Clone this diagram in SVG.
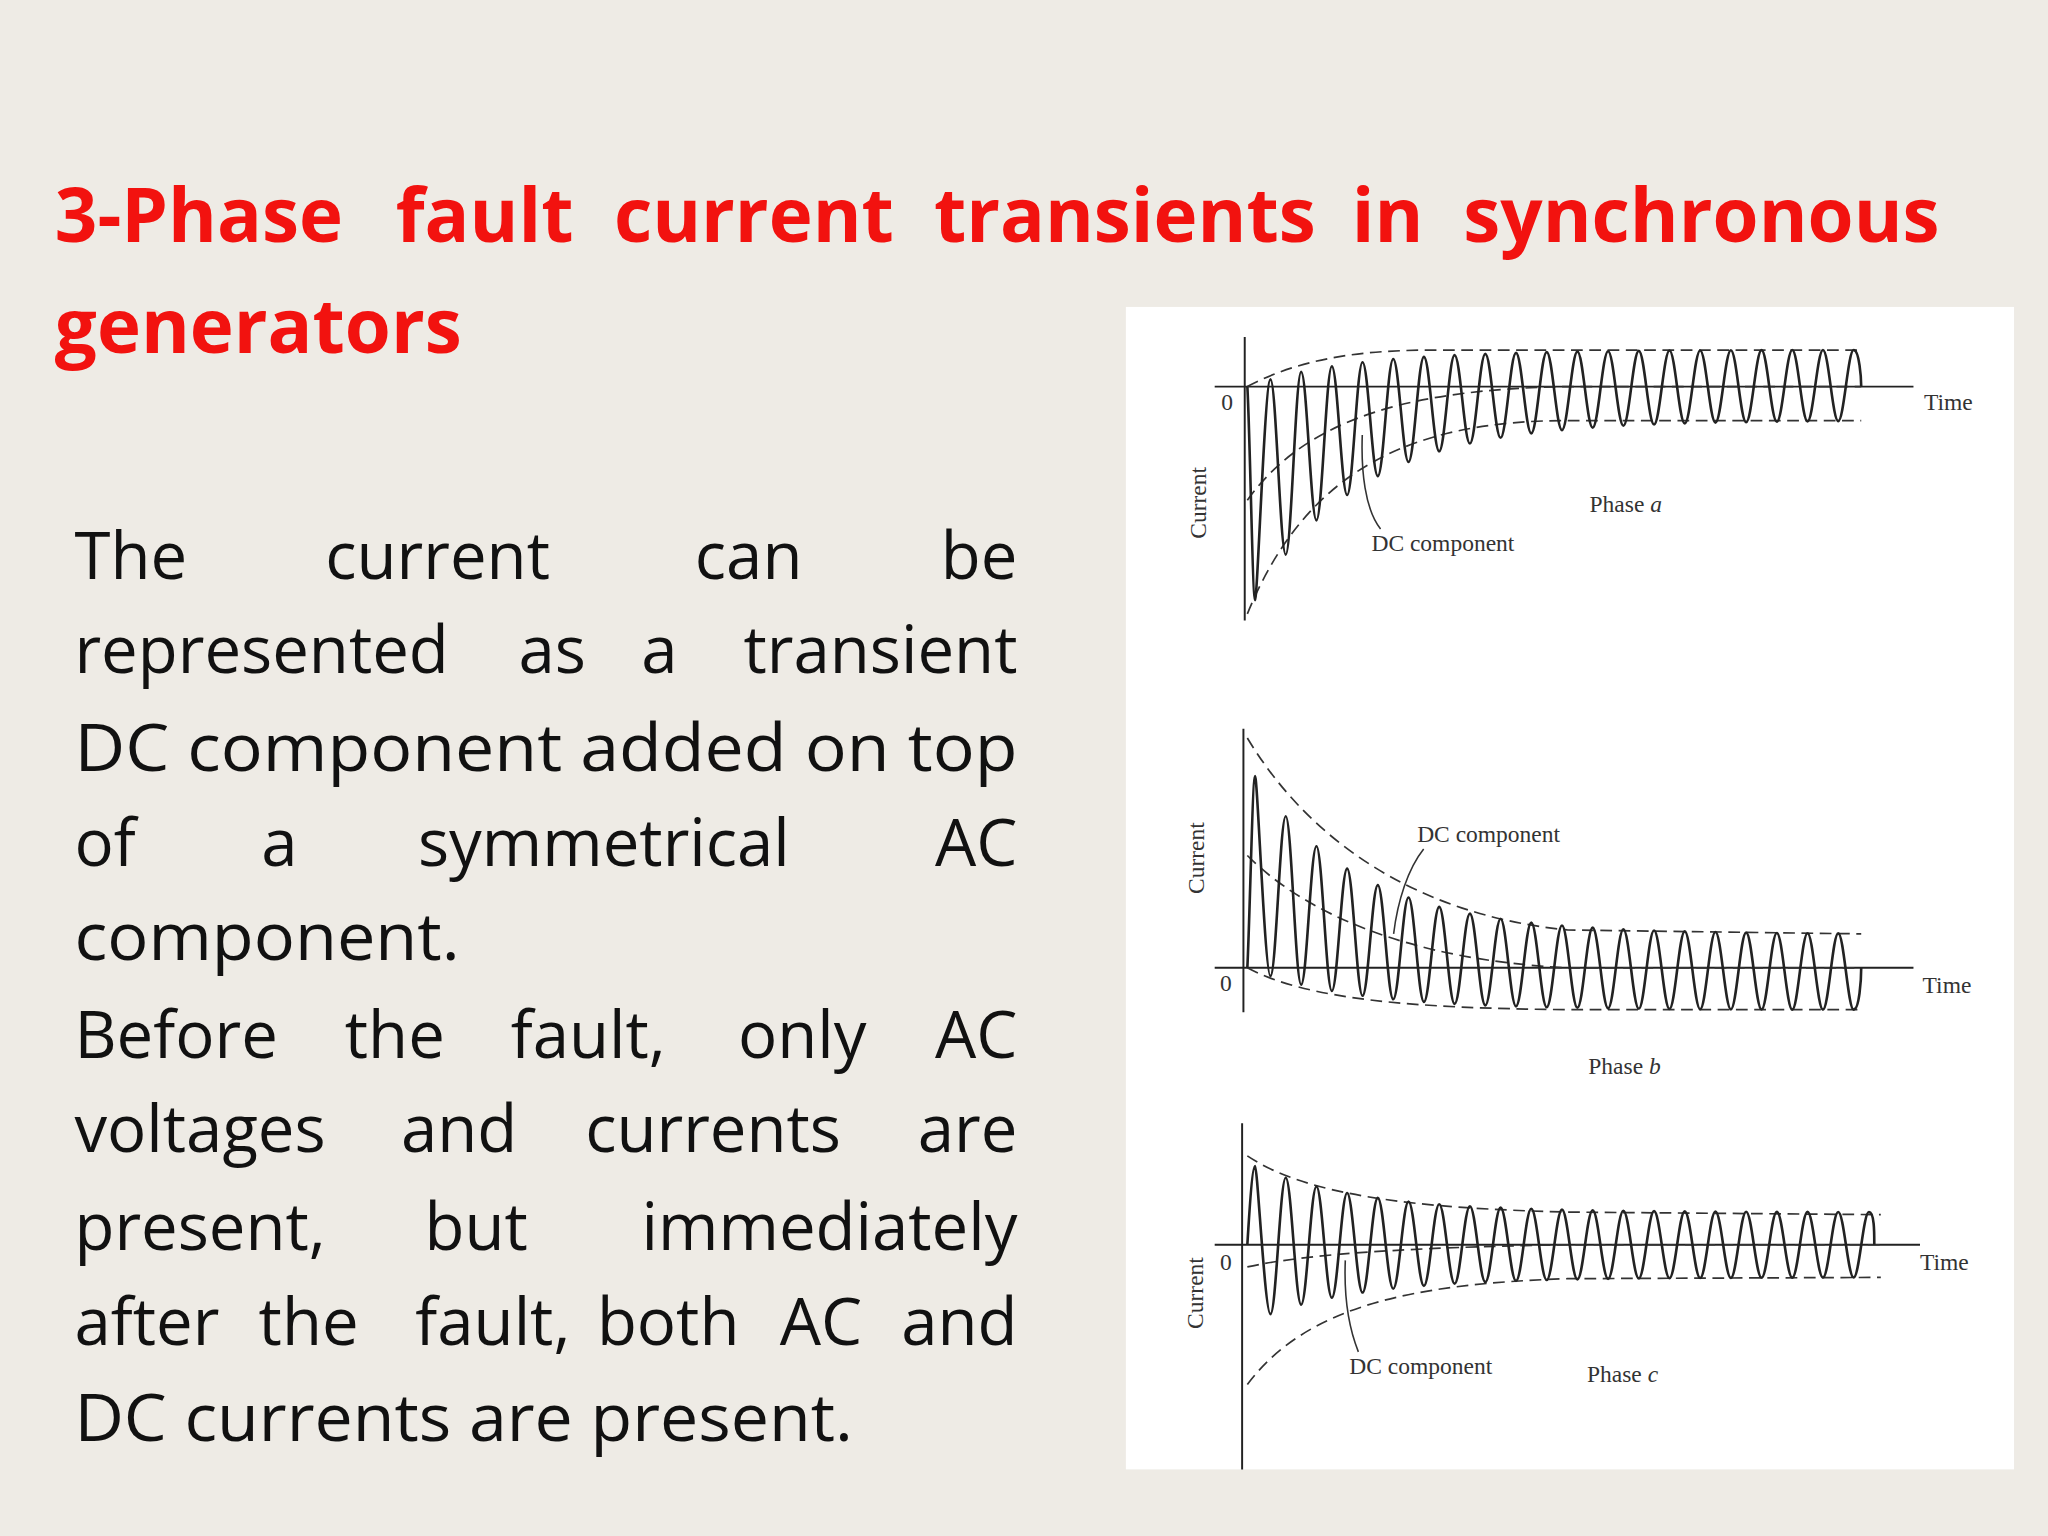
<svg xmlns="http://www.w3.org/2000/svg" width="2048" height="1536" viewBox="0 0 2048 1536">
<style>
.t{font-family:"Open Sans","Liberation Sans",sans-serif;font-weight:bold;font-size:57px;fill:#f2120f}
.b{font-family:"Open Sans","Liberation Sans",sans-serif;font-size:50px;fill:#111}
.e{text-anchor:end}
.p{font-family:"Liberation Serif",serif;font-size:18px;fill:#333}
.w{fill:none;stroke:#222;stroke-width:2}
.d{fill:none;stroke:#333;stroke-width:1.3;stroke-dasharray:9 5}
.ax{fill:none;stroke:#222;stroke-width:1.5}
.ld{fill:none;stroke:#333;stroke-width:1.2}
</style>
<rect width="2048" height="1536" fill="#eeebe5"/>
<g transform="scale(1.30612)">
<g id="title">
<text class="t" y="185"><tspan x="42">3-Phase</tspan><tspan x="303">fault</tspan><tspan x="470">current</tspan><tspan x="715">transients</tspan><tspan x="1035">in</tspan></text>
<text class="t e" x="1485" y="185">synchronous</text>
<text class="t" x="42" y="270">generators</text>
</g>
<g id="body">
<text class="b" y="443"><tspan x="57">The</tspan><tspan x="249">current</tspan><tspan x="532">can</tspan></text><text class="b e" x="779" y="443">be</text>
<text class="b" y="515"><tspan x="57">represented</tspan><tspan x="397">as</tspan><tspan x="491">a</tspan></text><text class="b e" x="779" y="515">transient</text>
<text class="b" x="57" y="590" textLength="722" lengthAdjust="spacingAndGlyphs">DC component added on top</text>
<text class="b" y="663"><tspan x="57">of</tspan><tspan x="200">a</tspan><tspan x="320">symmetrical</tspan></text><text class="b e" x="779" y="663">AC</text>
<text class="b" x="57" y="735" textLength="295" lengthAdjust="spacingAndGlyphs">component.</text>
<text class="b" y="810"><tspan x="57">Before</tspan><tspan x="264">the</tspan><tspan x="391">fault,</tspan><tspan x="565">only</tspan></text><text class="b e" x="779" y="810">AC</text>
<text class="b" y="882"><tspan x="57">voltages</tspan><tspan x="307">and</tspan><tspan x="448">currents</tspan></text><text class="b e" x="779" y="882">are</text>
<text class="b" y="957"><tspan x="57">present,</tspan><tspan x="325">but</tspan></text><text class="b e" x="779" y="957">immediately</text>
<text class="b" y="1030"><tspan x="57">after</tspan><tspan x="198">the</tspan><tspan x="318">fault,</tspan><tspan x="457">both</tspan><tspan x="597">AC</tspan></text><text class="b e" x="779" y="1030">and</text>
<text class="b" x="57" y="1103" textLength="596" lengthAdjust="spacingAndGlyphs">DC currents are present.</text>
</g>
<g id="panel">
<rect x="862" y="235" width="680" height="890" fill="#fff"/>
<g id="phase-a">
<path class="ax" d="M953,258 V475 M930,296 H1465"/>
<path class="d" d="M955,296 C1000,272 1050,268 1100,268 L1425,268"/>
<path class="d" d="M955,470 C1000,360 1080,322 1200,322 L1425,322"/>
<path class="d" d="M955,383 C1000,320 1080,298 1200,296 L1425,296"/>
<path class="w" d="M955,296 C957,330 959,459.5 960.9,459.5 S968.4,290.5 972.7,290.5 S980.1,424.6 984.4,424.6 S991.9,284.7 996.2,284.7 S1003.6,398.4 1007.9,398.4 S1015.4,280.5 1019.7,280.5 S1027.1,379 1031.4,379 S1038.9,277.3 1043.2,277.3 S1050.6,364.5 1054.9,364.5 S1062.4,274.9 1066.7,274.9 S1074.1,353.7 1078.4,353.7 S1085.9,273.2 1090.2,273.2 S1097.6,345.5 1101.9,345.5 S1109.4,271.9 1113.7,271.9 S1121.1,339.6 1125.4,339.6 S1132.9,270.9 1137.2,270.9 S1144.6,335.2 1148.9,335.2 S1156.4,270.2 1160.7,270.2 S1168.1,331.8 1172.4,331.8 S1179.9,269.6 1184.2,269.6 S1191.6,329.3 1195.9,329.3 S1203.4,269.2 1207.7,269.2 S1215.1,327.5 1219.4,327.5 S1226.9,268.9 1231.2,268.9 S1238.6,326 1242.9,326 S1250.4,268.6 1254.7,268.6 S1262.1,325 1266.4,325 S1273.9,268.4 1278.2,268.4 S1285.6,324.2 1289.9,324.2 S1297.4,268.3 1301.7,268.3 S1309.1,323.6 1313.4,323.6 S1320.9,268.2 1325.2,268.2 S1332.6,323.2 1336.9,323.2 S1344.4,268.1 1348.7,268.1 S1356.1,322.9 1360.4,322.9 S1367.9,268 1372.2,268 S1379.6,322.6 1383.9,322.6 S1391.4,268 1395.7,268 S1403.1,322.4 1407.4,322.4 S1414.9,268 1419.2,268 S1425,290 1425,296"/>
<text class="p" x="935" y="314">0</text>
<text class="p" x="1473" y="314">Time</text>
<text class="p" transform="translate(923,385) rotate(-90)" text-anchor="middle">Current</text>
<text class="p" x="1217" y="392">Phase <tspan font-style="italic">a</tspan></text>
<text class="p" x="1050" y="422">DC component</text>
<path class="ld" d="M1057,405 C1045,390 1042,360 1043,333"/>
</g>
<g id="phase-b">
<path class="ax" d="M952,558 V775 M930,741 H1465"/>
<path class="d" d="M955,565 C1000,640 1080,700 1200,712 L1425,715"/>
<path class="d" d="M955,741 C1000,765 1080,772 1200,773 L1425,773"/>
<path class="d" d="M955,655 C1000,700 1080,735 1200,741 L1425,741"/>
<path class="w" d="M955,741 C957,700 959,594.2 960.9,594.2 S968.4,747.3 972.7,747.3 S980.1,624.9 984.4,624.9 S991.9,753.9 996.2,753.9 S1003.6,647.9 1007.9,647.9 S1015.4,758.7 1019.7,758.7 S1027.1,665 1031.4,665 S1038.9,762.4 1043.2,762.4 S1050.6,677.7 1054.9,677.7 S1062.4,765.1 1066.7,765.1 S1074.1,687.2 1078.4,687.2 S1085.9,767.1 1090.2,767.1 S1097.6,694.3 1101.9,694.3 S1109.4,768.6 1113.7,768.6 S1121.1,699.5 1125.4,699.5 S1132.9,769.7 1137.2,769.7 S1144.6,703.4 1148.9,703.4 S1156.4,770.5 1160.7,770.5 S1168.1,706.4 1172.4,706.4 S1179.9,771.2 1184.2,771.2 S1191.6,708.6 1195.9,708.6 S1203.4,771.6 1207.7,771.6 S1215.1,710.2 1219.4,710.2 S1226.9,772 1231.2,772 S1238.6,711.5 1242.9,711.5 S1250.4,772.3 1254.7,772.3 S1262.1,712.4 1266.4,712.4 S1273.9,772.5 1278.2,772.5 S1285.6,713.1 1289.9,713.1 S1297.4,772.7 1301.7,772.7 S1309.1,713.6 1313.4,713.6 S1320.9,772.8 1325.2,772.8 S1332.6,714 1336.9,714 S1344.4,772.9 1348.7,772.9 S1356.1,714.3 1360.4,714.3 S1367.9,773 1372.2,773 S1379.6,714.5 1383.9,714.5 S1391.4,773 1395.7,773 S1403.1,714.6 1407.4,714.6 S1414.9,773 1419.2,773 S1425,750 1425,741"/>
<text class="p" x="934" y="759">0</text>
<text class="p" x="1472" y="760">Time</text>
<text class="p" transform="translate(922,657) rotate(-90)" text-anchor="middle">Current</text>
<text class="p" x="1085" y="645">DC component</text>
<path class="ld" d="M1090,650 C1078,665 1070,690 1067,715"/>
<text class="p" x="1216" y="822">Phase <tspan font-style="italic">b</tspan></text>
</g>
<g id="phase-c">
<path class="ax" d="M951,860 V1125 M930,953 H1470"/>
<path class="d" d="M955,885 C1000,915 1080,925 1200,928 L1440,930"/>
<path class="d" d="M955,1060 C1000,1000 1080,983 1200,979 L1440,978"/>
<path class="d" d="M955,970 C1000,960 1080,955 1200,953 L1440,953"/>
<path class="w" d="M955,953 C957,920 959,892.7 960.9,892.7 S968.4,1006.1 972.7,1006.1 S980.1,901.7 984.4,901.7 S991.9,998.9 996.2,998.9 S1003.6,908.4 1007.9,908.4 S1015.4,993.6 1019.7,993.6 S1027.1,913.4 1031.4,913.4 S1038.9,989.6 1043.2,989.6 S1050.6,917.1 1054.9,917.1 S1062.4,986.7 1066.7,986.7 S1074.1,919.9 1078.4,919.9 S1085.9,984.5 1090.2,984.5 S1097.6,922 1101.9,922 S1109.4,982.8 1113.7,982.8 S1121.1,923.5 1125.4,923.5 S1132.9,981.6 1137.2,981.6 S1144.6,924.6 1148.9,924.6 S1156.4,980.7 1160.7,980.7 S1168.1,925.5 1172.4,925.5 S1179.9,980 1184.2,980 S1191.6,926.1 1195.9,926.1 S1203.4,979.5 1207.7,979.5 S1215.1,926.6 1219.4,926.6 S1226.9,979.1 1231.2,979.1 S1238.6,927 1242.9,927 S1250.4,978.8 1254.7,978.8 S1262.1,927.3 1266.4,927.3 S1273.9,978.6 1278.2,978.6 S1285.6,927.5 1289.9,927.5 S1297.4,978.5 1301.7,978.5 S1309.1,927.6 1313.4,927.6 S1320.9,978.4 1325.2,978.4 S1332.6,927.7 1336.9,927.7 S1344.4,978.3 1348.7,978.3 S1356.1,927.8 1360.4,927.8 S1367.9,978.2 1372.2,978.2 S1379.6,927.8 1383.9,927.8 S1391.4,978.1 1395.7,978.1 S1403.1,927.9 1407.4,927.9 S1414.9,978.1 1419.2,978.1 S1426.6,927.9 1430.9,927.9 S1435,945 1435,953"/>
<text class="p" x="934" y="972">0</text>
<text class="p" x="1470" y="972">Time</text>
<text class="p" transform="translate(921,990) rotate(-90)" text-anchor="middle">Current</text>
<text class="p" x="1033" y="1052">DC component</text>
<path class="ld" d="M1040,1035 C1032,1015 1029,990 1030,965"/>
<text class="p" x="1215" y="1058">Phase <tspan font-style="italic">c</tspan></text>
</g>
</g>
</g>
</svg>
